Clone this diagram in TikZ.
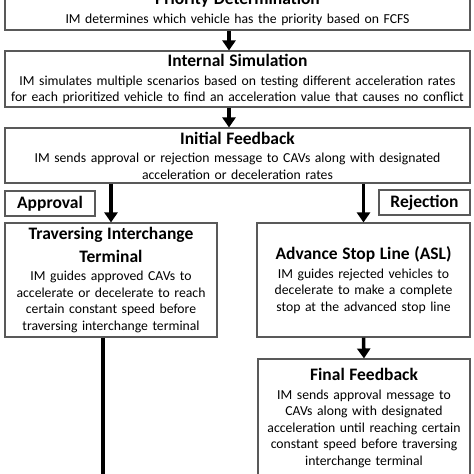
\documentclass[tikz,border=0pt]{standalone}
\usepackage{fontspec}
\setmainfont{Carlito}
\usetikzlibrary{arrows.meta}
\newcommand{\boxtitle}[1]{{\fontsize{17.5}{22.5}\selectfont\bfseries #1\par}\vspace{2pt}}

\begin{document}
\begin{tikzpicture}[x=1pt, y=-1pt,
    box/.style={draw=black!65, line width=1.1pt, align=center, inner xsep=1pt, inner ysep=2pt,
      font=\fontsize{13.7}{16.5}\selectfont},
    tag/.style={draw=black!65, line width=1.1pt, inner sep=0pt, minimum height=25pt,
      font=\fontsize{17.5}{20}\selectfont\bfseries},
    flow/.style={line width=3.5pt, -{Triangle[length=10pt, width=13pt]}}]
    \useasboundingbox (0,0) rectangle (474,474);
    \clip (0,0) rectangle (474,474);

    % main column
    \node[box, minimum width=465pt, text width=462pt, minimum height=42pt] (prio) at (237.5,9)
      {\boxtitle{Priority Determination}IM determines which vehicle has the priority based on FCFS};
    \node[box, minimum width=465pt, text width=462pt, minimum height=56pt] (sim) at (237.5,79)
      {\boxtitle{Internal Simulation}IM simulates multiple scenarios based on testing different acceleration rates\\
       for each prioritized vehicle to find an acceleration value that causes no conflict};
    \node[box, minimum width=465pt, text width=462pt, minimum height=55pt] (init) at (237.5,155.5)
      {\boxtitle{Initial Feedback}IM sends approval or rejection message to CAVs along with designated\\
       acceleration or deceleration rates};

    % branch labels
    \node[tag, minimum width=90pt] (appr) at (50,203.5) {Approval};
    \node[tag, minimum width=91pt] (rej) at (424.5,202.5) {Rejection};

    % two branches
    \node[box, minimum width=212pt, text width=209pt, minimum height=114pt] (trav) at (111,280)
      {\boxtitle{Traversing Interchange\\Terminal}IM guides approved CAVs to\\
       accelerate or decelerate to reach\\certain constant speed before\\traversing interchange terminal};
    \node[box, minimum width=213pt, text width=210pt, minimum height=114pt] (asl) at (363.5,280)
      {\boxtitle{Advance Stop Line (ASL)}IM guides rejected vehicles to\\
       decelerate to make a complete\\stop at the advanced stop line};
    \node[box, minimum width=212pt, text width=209pt, minimum height=118pt] (final) at (364,418)
      {\boxtitle{Final Feedback}IM sends approval message to\\CAVs along with designated\\
       acceleration until reaching certain\\constant speed before traversing\\interchange terminal};
    \coordinate (travout) at (103,490);

    % arrows
    \draw[flow] ([xshift=-8.5pt]prio.south) -- ([xshift=-8.5pt]sim.north);
    \draw[flow] ([xshift=-8.5pt]sim.south) -- ([xshift=-8.5pt]init.north);
    \draw[flow] (init.south -| trav.north) -- (trav.north);
    \draw[flow] (init.south -| asl.north) -- (asl.north);
    \draw[flow] (asl.south) -- (final.north);
    \draw[line width=3.5pt] ([xshift=-8pt]trav.south) -- (travout);
\end{tikzpicture}
\end{document}
